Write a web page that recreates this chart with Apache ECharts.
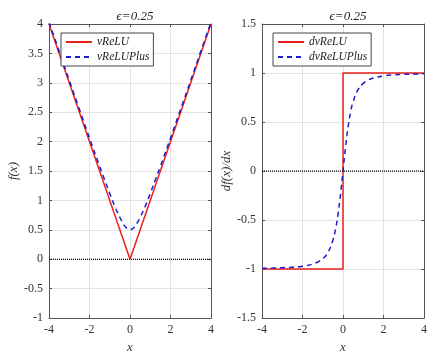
<!DOCTYPE html>
<html><head><meta charset="utf-8">
<script src="https://cdn.jsdelivr.net/npm/echarts@6/dist/echarts.min.js"></script>
<style>html,body{margin:0;padding:0;background:#fff}#c{width:438px;height:359px}</style>
</head><body><div id="c"></div>
<script>
// ---- data ----
const titleText = 'ϵ=0.25';
const xTicks = [-4, -2, 0, 2, 4];
// left panel: vReLU and vReLUPlus
const vReLU = [[-4, 4], [0, 0], [4, 4]];
const vReLUPlusX = [-4, -3.5, -3, -2.5, -2, -1.5, -1.25, -1, -0.75, -0.5, -0.375, -0.25, -0.125, 0, 0.125, 0.25, 0.375, 0.5, 0.75, 1, 1.25, 1.5, 2, 2.5, 3, 3.5, 4];
const vReLUPlusY = [4.03, 3.54, 3.04, 2.55, 2.06, 1.58, 1.35, 1.12, 0.90, 0.71, 0.63, 0.56, 0.52, 0.50, 0.52, 0.56, 0.63, 0.71, 0.90, 1.12, 1.35, 1.58, 2.06, 2.55, 3.04, 3.54, 4.03];
// right panel: dvReLU and dvReLUPlus
const dvReLU = [[-4, -1], [0, -1], [0, 1], [4, 1]];
const dvReLUPlusX = [-4, -3.5, -3, -2.5, -2, -1.5, -1.25, -1, -0.75, -0.5, -0.375, -0.25, -0.125, 0, 0.125, 0.25, 0.375, 0.5, 0.75, 1, 1.25, 1.5, 2, 2.5, 3, 3.5, 4];
const dvReLUPlusY = [-0.992, -0.990, -0.986, -0.981, -0.970, -0.949, -0.928, -0.894, -0.832, -0.707, -0.600, -0.447, -0.243, 0, 0.243, 0.447, 0.600, 0.707, 0.832, 0.894, 0.928, 0.949, 0.970, 0.981, 0.986, 0.990, 0.992];
const zeroLine = [[-4, 0], [4, 0]];

const serif = 'Liberation Serif';
const axisCol = '#555';
const gridCol = '#e3e3e3';
const zip = (xs, ys) => xs.map((x, i) => [x, ys[i]]);

function xAxes(gi) {
  return [
    {gridIndex: gi, type: 'value', min: -4, max: 4, interval: 2, position: 'bottom',
     name: 'x', nameLocation: 'middle', nameGap: 22,
     nameTextStyle: {fontFamily: serif, fontStyle: 'italic', fontSize: 13, color: '#333'},
     axisLine: {onZero: false, lineStyle: {color: axisCol}},
     axisTick: {inside: true, length: 3, lineStyle: {color: axisCol}},
     axisLabel: {fontFamily: serif, fontSize: 12, color: '#333', margin: 6},
     splitLine: {show: true, lineStyle: {color: gridCol}}},
    {gridIndex: gi, type: 'value', min: -4, max: 4, interval: 2, position: 'top',
     axisLine: {onZero: false, lineStyle: {color: axisCol}},
     axisTick: {inside: true, length: 3, lineStyle: {color: axisCol}},
     axisLabel: {show: false}, splitLine: {show: false}}
  ];
}
function yAxes(gi, min, max, name, gap) {
  return [
    {gridIndex: gi, type: 'value', min: min, max: max, interval: 0.5, position: 'left',
     name: name, nameLocation: 'middle', nameGap: gap,
     nameTextStyle: {fontFamily: serif, fontStyle: 'italic', fontSize: 13, color: '#333'},
     axisLine: {show: true, onZero: false, lineStyle: {color: axisCol}},
     axisTick: {show: true, inside: true, length: 3, lineStyle: {color: axisCol}},
     axisLabel: {fontFamily: serif, fontSize: 12, color: '#333', margin: 6},
     splitLine: {show: true, lineStyle: {color: gridCol}}},
    {gridIndex: gi, type: 'value', min: min, max: max, interval: 0.5, position: 'right',
     axisLine: {show: true, onZero: false, lineStyle: {color: axisCol}},
     axisTick: {show: true, inside: true, length: 3, lineStyle: {color: axisCol}},
     axisLabel: {show: false}, splitLine: {show: false}}
  ];
}
const legendStyle = {
  orient: 'vertical', itemWidth: 26, itemHeight: 10, itemGap: 3,
  padding: [3, 4, 3, 4],
  backgroundColor: '#fff', borderColor: '#444', borderWidth: 1,
  itemStyle: {opacity: 0},
  textStyle: {fontFamily: serif, fontStyle: 'italic', fontSize: 11.5, color: '#222'}
};

const chart = echarts.init(document.getElementById('c'), null, {renderer: 'canvas'});
chart.setOption({
  animation: false,
  title: [
    {text: titleText, left: 130, top: 5, textAlign: 'center',
     textStyle: {fontFamily: serif, fontStyle: 'italic', fontWeight: 'normal', fontSize: 13, color: '#222'}},
    {text: titleText, left: 343, top: 5, textAlign: 'center',
     textStyle: {fontFamily: serif, fontStyle: 'italic', fontWeight: 'normal', fontSize: 13, color: '#222'}}
  ],
  grid: [
    {left: 49, top: 24, width: 162, height: 295},
    {left: 262, top: 24, width: 162, height: 295}
  ],
  legend: [
    Object.assign({data: ['vReLU', 'vReLUPlus'], left: 61, top: 33}, legendStyle),
    Object.assign({data: ['dvReLU', 'dvReLUPlus'], left: 273, top: 33}, legendStyle)
  ],
  xAxis: xAxes(0).concat(xAxes(1)),
  yAxis: yAxes(0, -1, 4, 'f(x)', 19).concat(yAxes(1, -1.5, 1.5, 'df(x)/dx', 26)),
  series: [
    {name: 'zero1', type: 'line', xAxisIndex: 0, yAxisIndex: 0, data: zeroLine, symbol: 'none',
     lineStyle: {color: '#000', width: 1.2, type: [1, 1]}, silent: true},
    {name: 'vReLU', type: 'line', xAxisIndex: 0, yAxisIndex: 0, data: vReLU, symbol: 'none',
     color: '#e8211d', lineStyle: {color: '#e8211d', width: 1.5}},
    {name: 'vReLUPlus', type: 'line', xAxisIndex: 0, yAxisIndex: 0, data: zip(vReLUPlusX, vReLUPlusY), symbol: 'none', smooth: true,
     color: '#1c1ccc', lineStyle: {color: '#1c1ccc', width: 1.5, type: [5, 4]}},
    {name: 'zero2', type: 'line', xAxisIndex: 2, yAxisIndex: 2, data: zeroLine, symbol: 'none',
     lineStyle: {color: '#000', width: 1.2, type: [1, 1]}, silent: true},
    {name: 'dvReLU', type: 'line', xAxisIndex: 2, yAxisIndex: 2, data: dvReLU, symbol: 'none',
     color: '#e8211d', lineStyle: {color: '#e8211d', width: 1.5}},
    {name: 'dvReLUPlus', type: 'line', xAxisIndex: 2, yAxisIndex: 2, data: zip(dvReLUPlusX, dvReLUPlusY), symbol: 'none', smooth: true,
     color: '#1c1ccc', lineStyle: {color: '#1c1ccc', width: 1.5, type: [5, 4]}}
  ]
});
</script></body></html>
